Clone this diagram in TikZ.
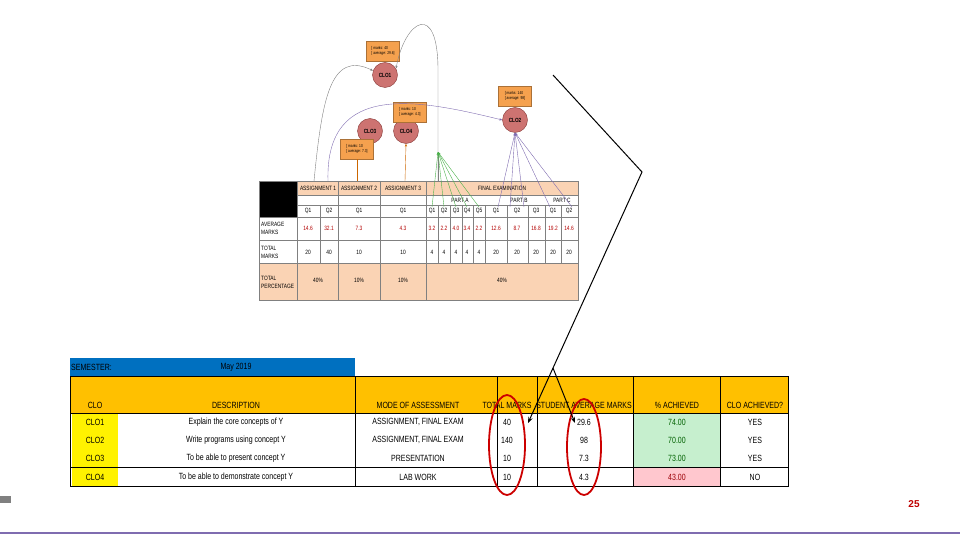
\documentclass[tikz,border=0pt]{standalone}
\usepackage{fontspec}
\setmainfont{Liberation Sans}
\newfontfamily\narrow[FakeStretch=0.78]{Liberation Sans}
\usetikzlibrary{arrows.meta,shapes.geometric}
\definecolor{peach}{HTML}{FAD3B4}
\definecolor{boxor}{HTML}{F5A14E}
\definecolor{clored}{HTML}{C0504D}
\definecolor{hdr}{HTML}{FFC000}
\definecolor{semb}{HTML}{0070C0}
\definecolor{okg}{HTML}{C6EFCE}
\definecolor{okgt}{HTML}{006100}
\definecolor{badr}{HTML}{FFC7CE}
\definecolor{badrt}{HTML}{9C0006}
\definecolor{purp}{HTML}{7F6CB0}
\begin{document}
\begin{tikzpicture}[x=1pt,y=-1pt,
 t/.style={font=\narrow\fontsize{6.2}{7}\selectfont,inner sep=0pt},
 tb/.style={font=\narrow\fontsize{9}{10}\selectfont,inner sep=0pt},
 clo/.style={circle,draw=clored!70!black,fill=clored!80!white,minimum size=25pt,inner sep=0pt,font=\narrow\fontsize{6}{7}\selectfont\bfseries},
 mbox/.style={draw=boxor!70!black,fill=boxor,minimum width=33pt,minimum height=20pt,align=left,inner sep=1pt,font=\narrow\fontsize{4.2}{5}\selectfont},
 gl/.style={draw=gray,thin,-{Stealth[length=3pt]}},
 pl/.style={draw=purp,thin,-{Stealth[length=3pt]}},
 ol/.style={draw=orange!80!black,thin,-{Stealth[length=3pt]}}]
\useasboundingbox (0,0) rectangle (960,540);
% ---------- upper table ----------
\fill[peach] (297,181) rectangle (578,195);
\fill[peach] (259,263) rectangle (578,300);
\fill[black] (259,181) rectangle (297,217);
\draw[gray] (259,181) rectangle (578,300);
\foreach \y in {195,205,217,240,263} \draw[gray] (297,\y)--(578,\y);
\foreach \y in {217,240,263} \draw[gray] (259,\y)--(297,\y);
\foreach \x in {297,338,380,426} \draw[gray] (\x,181)--(\x,300);
\foreach \x in {320,438,450,462,473,485,507,528,545,561} \draw[gray] (\x,205)--(\x,263);
\node[t] at (318,188) {ASSIGNMENT 1};
\node[t] at (359,188) {ASSIGNMENT 2};
\node[t] at (403,188) {ASSIGNMENT 3};
\node[t] at (502,188) {FINAL EXAMINATION};
\node[t] at (460,200) {PART A};
\node[t] at (519,200) {PART B};
\node[t] at (562,200) {PART C};
\foreach \x/\l in {308/Q1,329/Q2,359/Q1,403/Q1,432/Q1,444/Q2,456/Q3,467/Q4,479/Q5,496/Q1,517/Q2,536/Q3,553/Q1,569/Q2}
 \node[t] at (\x,211) {\l};
\foreach \x/\l in {308/14.6,329/32.1,359/7.3,403/4.3,432/3.2,444/2.2,456/4.0,467/3.4,479/2.2,496/12.6,517/8.7,536/16.8,553/19.2,569/14.6}
 \node[t,text=red!70!black] at (\x,228) {\l};
\foreach \x/\l in {308/20,329/40,359/10,403/10,432/4,444/4,456/4,467/4,479/4,496/20,517/20,536/20,553/20,569/20}
 \node[t] at (\x,252) {\l};
\node[t,align=left,anchor=west] at (261,228) {AVERAGE\\[1pt]MARKS};
\node[t,align=left,anchor=west] at (261,252) {TOTAL\\[1pt]MARKS};
\node[t,align=left,anchor=west] at (261,282) {TOTAL\\[1pt]PERCENTAGE};
\node[t] at (318,280) {40\%};
\node[t] at (359,280) {10\%};
\node[t] at (403,280) {10\%};
\node[t] at (502,280) {40\%};
% ---------- CLO nodes ----------
\node[mbox] (b1) at (383,51) {[ marks: 40\\\relax[ average: 29.6]};
\node[clo] (c1) at (385,75) {CLO1};
\node[mbox] (b2) at (515,96) {[ marks: 140\\\relax[ average: 98]};
\node[clo] (c2) at (515,120) {CLO2};
\node[clo] (c3) at (370,131) {CLO3};
\node[clo] (c4) at (406,131) {CLO4};
\node[mbox] (b4) at (410,112) {[ marks: 10\\\relax[ average: 4.3]};
\node[mbox] (b3) at (357,149) {[ marks: 10\\\relax[ average: 7.3]};
% anchors in table
\coordinate (a1q1) at (314,181);
\coordinate (a1q2) at (328,181);
\coordinate (a2) at (357,181);
\coordinate (a3) at (405,181);
\coordinate (fe) at (438,181);
\coordinate (fan) at (438,152);
% connectors
\draw[gl] (a1q1) .. controls (322,100) and (330,50) .. (c1.160);
\draw[gl] (fe) -- (438,70) .. controls (438,0) and (405,20) .. (c1.30);
\draw[gl,-] (fan) -- (fe);
\foreach \x in {432,444,456,467,479} \draw[draw=green!40!gray,thin,{Stealth[length=3pt]}-] (fan) -- (\x,207);
\draw[pl] (a1q2) .. controls (325,80) and (420,100) .. (c2.west);
\foreach \x in {498,510,524,550,572} \draw[pl,{Stealth[length=3pt]}-] (c2.south) -- (\x,207);
\draw[draw=orange!80!black,thin] (a2) -- (b3.south);
\draw[ol] (a3) -- (c4.south);
% ---------- lower table ----------
\fill[semb] (70,358) rectangle (355,376);
\fill[hdr] (70,376) rectangle (788,413);
\fill[yellow] (72,413) rectangle (118,486);
\fill[okg] (633,413) rectangle (720,467);
\fill[badr] (633,467) rectangle (720,486);
\draw[black,thin] (70,376) rectangle (788,486);
\draw[black,thin] (70,413)--(788,413);
\draw[black,thin] (70,467)--(788,467);
\foreach \x in {355,497,537,633,720} \draw[black,thin] (\x,376)--(\x,486);
\node[tb,anchor=west] at (71,367) {SEMESTER:};
\node[tb] at (236,367) {May 2019};
\foreach \x/\l in {95/CLO,236/DESCRIPTION,418/MODE OF ASSESSMENT,507/TOTAL MARKS,584/STUDENT AVERAGE MARKS,677/\% ACHIEVED,755/CLO ACHIEVED?}
 \node[tb] at (\x,405) {\l};
\foreach \y/\a/\b/\c/\d/\e/\f/\g in {422/CLO1/Explain the core concepts of Y/{ASSIGNMENT, FINAL EXAM}/40/29.6/74.00/YES,
 440/CLO2/Write programs using concept Y/{ASSIGNMENT, FINAL EXAM}/140/98/70.00/YES,
 458/CLO3/To be able to present concept Y/PRESENTATION/10/7.3/73.00/YES}{
 \node[tb] at (95,\y) {\a}; \node[tb] at (236,\y) {\b}; \node[tb] at (418,\y) {\c};
 \node[tb] at (507,\y) {\d}; \node[tb] at (584,\y) {\e}; \node[tb,text=okgt] at (677,\y) {\f}; \node[tb] at (755,\y) {\g};}
\node[tb] at (95,477) {CLO4}; \node[tb] at (236,477) {To be able to demonstrate concept Y};
\node[tb] at (418,477) {LAB WORK}; \node[tb] at (507,477) {10}; \node[tb] at (584,477) {4.3};
\node[tb,text=badrt] at (677,477) {43.00}; \node[tb] at (755,477) {NO};
% red ellipses
\node[draw=red!80!black,line width=1.8pt,ellipse,minimum width=36pt,minimum height=100pt,inner sep=0pt] (e1) at (507,445) {};
\node[draw=red!80!black,line width=1.8pt,ellipse,minimum width=34pt,minimum height=96pt,inner sep=0pt] (e2) at (584,447) {};
% black callout
\coordinate (k0) at (553,75);
\coordinate (k1) at (642,172);
\coordinate (k2) at (553,368);
\draw[black,line width=1pt] (k0) -- (k1) -- (k2);
\draw[black,line width=1pt,-{Stealth[length=6pt]}] (k2) -- (528,423);
\draw[black,line width=1pt,-{Stealth[length=6pt]}] (k2) -- (575,423);
% footer
\node[font=\fontsize{10}{12}\selectfont\bfseries,text=red!75!black] (pg) at (914,504) {25};
\fill[purp] (0,532) rectangle (960,534);
\fill[gray] (0,496) rectangle (11,503);
\end{tikzpicture}
\end{document}
